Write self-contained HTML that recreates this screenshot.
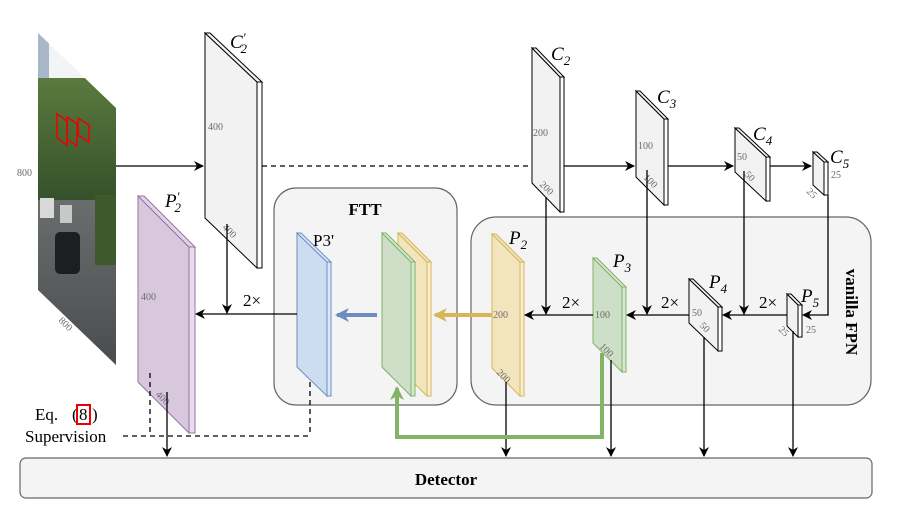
<!DOCTYPE html>
<html><head><meta charset="utf-8"><style>
html,body{margin:0;padding:0;background:#fff;}
svg{display:block;}
text{font-family:"Liberation Serif",serif;}
.dim{font-size:10px;fill:#6b6b6b;}
</style></head><body>
<svg width="911" height="511" viewBox="0 0 911 511" xmlns="http://www.w3.org/2000/svg">
<defs>
<marker id="ah" markerWidth="10" markerHeight="10" refX="9" refY="5" orient="auto" markerUnits="userSpaceOnUse">
<path d="M0,0 L10,5 L0,10 L3,5 z" fill="#000"/></marker>
<marker id="ahy" markerWidth="14" markerHeight="14" refX="12" refY="7" orient="auto" markerUnits="userSpaceOnUse">
<path d="M0,0 L14,7 L0,14 L4,7 z" fill="#d6b656"/></marker>
<marker id="ahb" markerWidth="14" markerHeight="14" refX="12" refY="7" orient="auto" markerUnits="userSpaceOnUse">
<path d="M0,0 L14,7 L0,14 L4,7 z" fill="#6c8ebf"/></marker>
<marker id="ahg" markerWidth="14" markerHeight="14" refX="12" refY="7" orient="auto" markerUnits="userSpaceOnUse">
<path d="M0,0 L14,7 L0,14 L4,7 z" fill="#82b366"/></marker>
<clipPath id="img"><polygon points="38,33 116,108 116,365 38,290"/></clipPath>
<linearGradient id="road" x1="0" y1="0" x2="0" y2="1"><stop offset="0" stop-color="#6a6d6e"/><stop offset="1" stop-color="#4a4c4d"/></linearGradient>
<linearGradient id="tree" x1="0" y1="0" x2="0" y2="1"><stop offset="0" stop-color="#5b7a3e"/><stop offset="1" stop-color="#34502a"/></linearGradient>
</defs>

<rect x="274" y="188" width="183" height="217" rx="22" fill="#f4f4f4" stroke="#666" stroke-width="1.2"/>
<rect x="471" y="217" width="400" height="188" rx="25" fill="#f4f4f4" stroke="#666" stroke-width="1.2"/>
<rect x="20" y="458" width="852" height="40" rx="6" fill="#f4f4f4" stroke="#666" stroke-width="1.2"/>

<g clip-path="url(#img)">
<rect x="38" y="33" width="78" height="332" fill="#f2f4f5"/>
<rect x="38" y="33" width="11" height="80" fill="#a8b8c8"/>
<rect x="38" y="78" width="78" height="125" fill="url(#tree)"/>
<rect x="38" y="200" width="78" height="165" fill="url(#road)"/>
<rect x="95" y="195" width="21" height="70" fill="#3e5a2c"/>
<rect x="55" y="232" width="25" height="42" rx="5" fill="#1c1f22"/>
<rect x="40" y="198" width="14" height="20" fill="#d8d8d8"/>
<rect x="60" y="205" width="12" height="18" fill="#c8c8c8"/>
</g>
<g fill="none" stroke="#e00" stroke-width="1.5">
<polygon points="57,114 67,121 67,145 57,138"/>
<polygon points="67,117 77,124 77,146 67,139"/>
<polygon points="78,118 89,125 89,142 78,135"/>
</g>
<text class="dim" x="17" y="176">800</text>
<text class="dim" transform="translate(58,321) rotate(45)">800</text>

<g stroke-width="1">
<polygon points="205,33 257,82 257,268 205,218" fill="#f2f2f2" stroke="#000"/>
<polygon points="205,33 210,33 262,82 257,82" fill="#f2f2f2" stroke="#000"/>
<polygon points="257,82 262,82 262,268 257,268" fill="#fff" stroke="#000"/>
<polygon points="138,196 189,247 189,433 138,382" fill="#d8c8de" stroke="#9673a6"/>
<polygon points="138,196 144,196 195,247 189,247" fill="#e1d5e7" stroke="#9673a6"/>
<polygon points="189,247 195,247 195,433 189,433" fill="#e8dcee" stroke="#9673a6"/>
<polygon points="532,48 560,77 560,212 532,183" fill="#f2f2f2" stroke="#000"/>
<polygon points="532,48 536,48 564,77 560,77" fill="#f2f2f2" stroke="#000"/>
<polygon points="560,77 564,77 564,212 560,212" fill="#fff" stroke="#000"/>
<polygon points="636,91 664,119 664,205 636,177" fill="#f2f2f2" stroke="#000"/>
<polygon points="636,91 640,91 668,119 664,119" fill="#f2f2f2" stroke="#000"/>
<polygon points="664,119 668,119 668,205 664,205" fill="#fff" stroke="#000"/>
<polygon points="735,128 766,157 766,201 735,172" fill="#f2f2f2" stroke="#000"/>
<polygon points="735,128 739,128 770,157 766,157" fill="#f2f2f2" stroke="#000"/>
<polygon points="766,157 770,157 770,201 766,201" fill="#fff" stroke="#000"/>
<polygon points="813,152 824,162 824,195 813,185" fill="#f2f2f2" stroke="#000"/>
<polygon points="813,152 817,152 828,162 824,162" fill="#f2f2f2" stroke="#000"/>
<polygon points="824,162 828,162 828,195 824,195" fill="#fff" stroke="#000"/>
<polygon points="492,234 520,262 520,396 492,368" fill="#f2e4bd" stroke="#d6b656"/>
<polygon points="492,234 496,234 524,262 520,262" fill="#f2e4bd" stroke="#d6b656"/>
<polygon points="520,262 524,262 524,396 520,396" fill="#f7edd2" stroke="#d6b656"/>
<polygon points="593,258 622,287 622,372 593,343" fill="#cddfc6" stroke="#82b366"/>
<polygon points="593,258 597,258 626,287 622,287" fill="#d5e8d4" stroke="#82b366"/>
<polygon points="622,287 626,287 626,372 622,372" fill="#d5e8d4" stroke="#82b366"/>
<polygon points="689,279 718,307 718,351 689,323" fill="#f2f2f2" stroke="#000"/>
<polygon points="689,279 693,279 722,307 718,307" fill="#f2f2f2" stroke="#000"/>
<polygon points="718,307 722,307 722,351 718,351" fill="#fff" stroke="#000"/>
<polygon points="787,294 798,305 798,337 787,326" fill="#f2f2f2" stroke="#000"/>
<polygon points="787,294 791,294 802,305 798,305" fill="#f2f2f2" stroke="#000"/>
<polygon points="798,305 802,305 802,337 798,337" fill="#fff" stroke="#000"/>
<polygon points="398,233 427,262 427,396 398,367" fill="#f2e4bd" stroke="#d6b656"/>
<polygon points="398,233 402,233 431,262 427,262" fill="#f2e4bd" stroke="#d6b656"/>
<polygon points="427,262 431,262 431,396 427,396" fill="#f7edd2" stroke="#d6b656"/>
<polygon points="382,233 411,262 411,396 382,367" fill="#cddfc6" stroke="#82b366"/>
<polygon points="382,233 386,233 415,262 411,262" fill="#d5e8d4" stroke="#82b366"/>
<polygon points="411,262 415,262 415,396 411,396" fill="#d5e8d4" stroke="#82b366"/>
<polygon points="297,233 327,262 327,396 297,367" fill="#cddcf0" stroke="#6c8ebf"/>
<polygon points="297,233 301,233 331,262 327,262" fill="#dae8fc" stroke="#6c8ebf"/>
<polygon points="327,262 331,262 331,396 327,396" fill="#dae8fc" stroke="#6c8ebf"/>
</g>

<text class="dim" x="208" y="130">400</text>
<text class="dim" transform="translate(222,228) rotate(45)">400</text>
<text class="dim" x="141" y="300">400</text>
<text class="dim" transform="translate(155,395) rotate(45)">400</text>
<text class="dim" x="533" y="136">200</text>
<text class="dim" transform="translate(539,185) rotate(45)">200</text>
<text class="dim" x="638" y="149">100</text>
<text class="dim" transform="translate(643,178) rotate(45)">100</text>
<text class="dim" x="737" y="160">50</text>
<text class="dim" transform="translate(744,175) rotate(45)">50</text>
<text class="dim" x="831" y="178">25</text>
<text class="dim" transform="translate(806,192) rotate(45)">25</text>
<text class="dim" x="493" y="318">200</text>
<text class="dim" transform="translate(496,373) rotate(45)">200</text>
<text class="dim" x="595" y="318">100</text>
<text class="dim" transform="translate(599,347) rotate(45)">100</text>
<text class="dim" x="692" y="316">50</text>
<text class="dim" transform="translate(699,326) rotate(45)">50</text>
<text class="dim" x="806" y="333">25</text>
<text class="dim" transform="translate(778,330) rotate(45)">25</text>

<g stroke="#000" stroke-width="1.3" fill="none">
<line x1="116" y1="166" x2="203" y2="166" marker-end="url(#ah)"/>
<line x1="262" y1="166" x2="530" y2="166" stroke-dasharray="5,4"/>
<line x1="564" y1="166" x2="634" y2="166" marker-end="url(#ah)"/>
<line x1="668" y1="166" x2="733" y2="166" marker-end="url(#ah)"/>
<line x1="770" y1="166" x2="811" y2="166" marker-end="url(#ah)"/>
<line x1="546" y1="197" x2="546" y2="314" marker-end="url(#ah)"/>
<line x1="593" y1="315" x2="525" y2="315" marker-end="url(#ah)"/>
<line x1="647" y1="170" x2="647" y2="314" marker-end="url(#ah)"/>
<line x1="689" y1="315" x2="627" y2="315" marker-end="url(#ah)"/>
<line x1="744" y1="171" x2="744" y2="314" marker-end="url(#ah)"/>
<line x1="787" y1="315" x2="723" y2="315" marker-end="url(#ah)"/>
<polyline points="828,195 828,315 803,315" marker-end="url(#ah)"/>
<line x1="227" y1="224" x2="227" y2="313" marker-end="url(#ah)"/>
<line x1="297" y1="314" x2="196" y2="314" marker-end="url(#ah)"/>
<line x1="506" y1="382" x2="506" y2="456" marker-end="url(#ah)"/>
<line x1="611" y1="360" x2="611" y2="456" marker-end="url(#ah)"/>
<line x1="704" y1="337" x2="704" y2="456" marker-end="url(#ah)"/>
<line x1="793" y1="331" x2="793" y2="456" marker-end="url(#ah)"/>
<line x1="167" y1="392" x2="167" y2="456" marker-end="url(#ah)"/>
<g stroke-dasharray="5,4">
<line x1="123" y1="436" x2="310" y2="436"/>
<line x1="310" y1="382" x2="310" y2="436"/>
<line x1="150" y1="373" x2="150" y2="436"/>
</g>
</g>
<line x1="492" y1="315" x2="435" y2="315" stroke="#d6b656" stroke-width="4" marker-end="url(#ahy)"/>
<line x1="377" y1="315" x2="337" y2="315" stroke="#6c8ebf" stroke-width="4" marker-end="url(#ahb)"/>
<polyline points="602,353 602,437 397,437 397,388" fill="none" stroke="#82b366" stroke-width="4" marker-end="url(#ahg)"/>

<g font-size="17">
<text x="562" y="308">2×</text>
<text x="661" y="308">2×</text>
<text x="759" y="308">2×</text>
<text x="243" y="306">2×</text>
</g>
<g font-style="italic" font-size="19">
<text x="230" y="48">C<tspan font-size="13" dy="-6">′</tspan><tspan font-size="13" dx="-5" dy="11">2</tspan></text>
<text x="165" y="207">P<tspan font-size="13" dy="-6">′</tspan><tspan font-size="13" dx="-5" dy="11">2</tspan></text>
<text x="551" y="60">C<tspan font-size="13" dy="5">2</tspan></text>
<text x="657" y="103">C<tspan font-size="13" dy="5">3</tspan></text>
<text x="753" y="140">C<tspan font-size="13" dy="5">4</tspan></text>
<text x="830" y="163">C<tspan font-size="13" dy="5">5</tspan></text>
<text x="509" y="244">P<tspan font-size="13" dy="5">2</tspan></text>
<text x="613" y="267">P<tspan font-size="13" dy="5">3</tspan></text>
<text x="709" y="288">P<tspan font-size="13" dy="5">4</tspan></text>
<text x="801" y="302">P<tspan font-size="13" dy="5">5</tspan></text>
</g>
<text x="313" y="246" font-size="17">P3'</text>
<text x="365" y="215" font-size="17" font-weight="bold" text-anchor="middle">FTT</text>
<text x="446" y="485" font-size="17" font-weight="bold" text-anchor="middle">Detector</text>
<text transform="translate(846,312) rotate(90)" font-size="17" font-weight="bold" text-anchor="middle">vanilla FPN</text>
<g font-size="17">
<text x="35" y="420">Eq.</text>
<text x="72" y="420">(</text>
<text x="79" y="420">8</text>
<text x="92" y="420">)</text>
</g>
<rect x="77" y="405" width="13" height="19" fill="none" stroke="#e00" stroke-width="2"/>
<text x="25" y="442" font-size="17">Supervision</text>
</svg>
</body></html>
